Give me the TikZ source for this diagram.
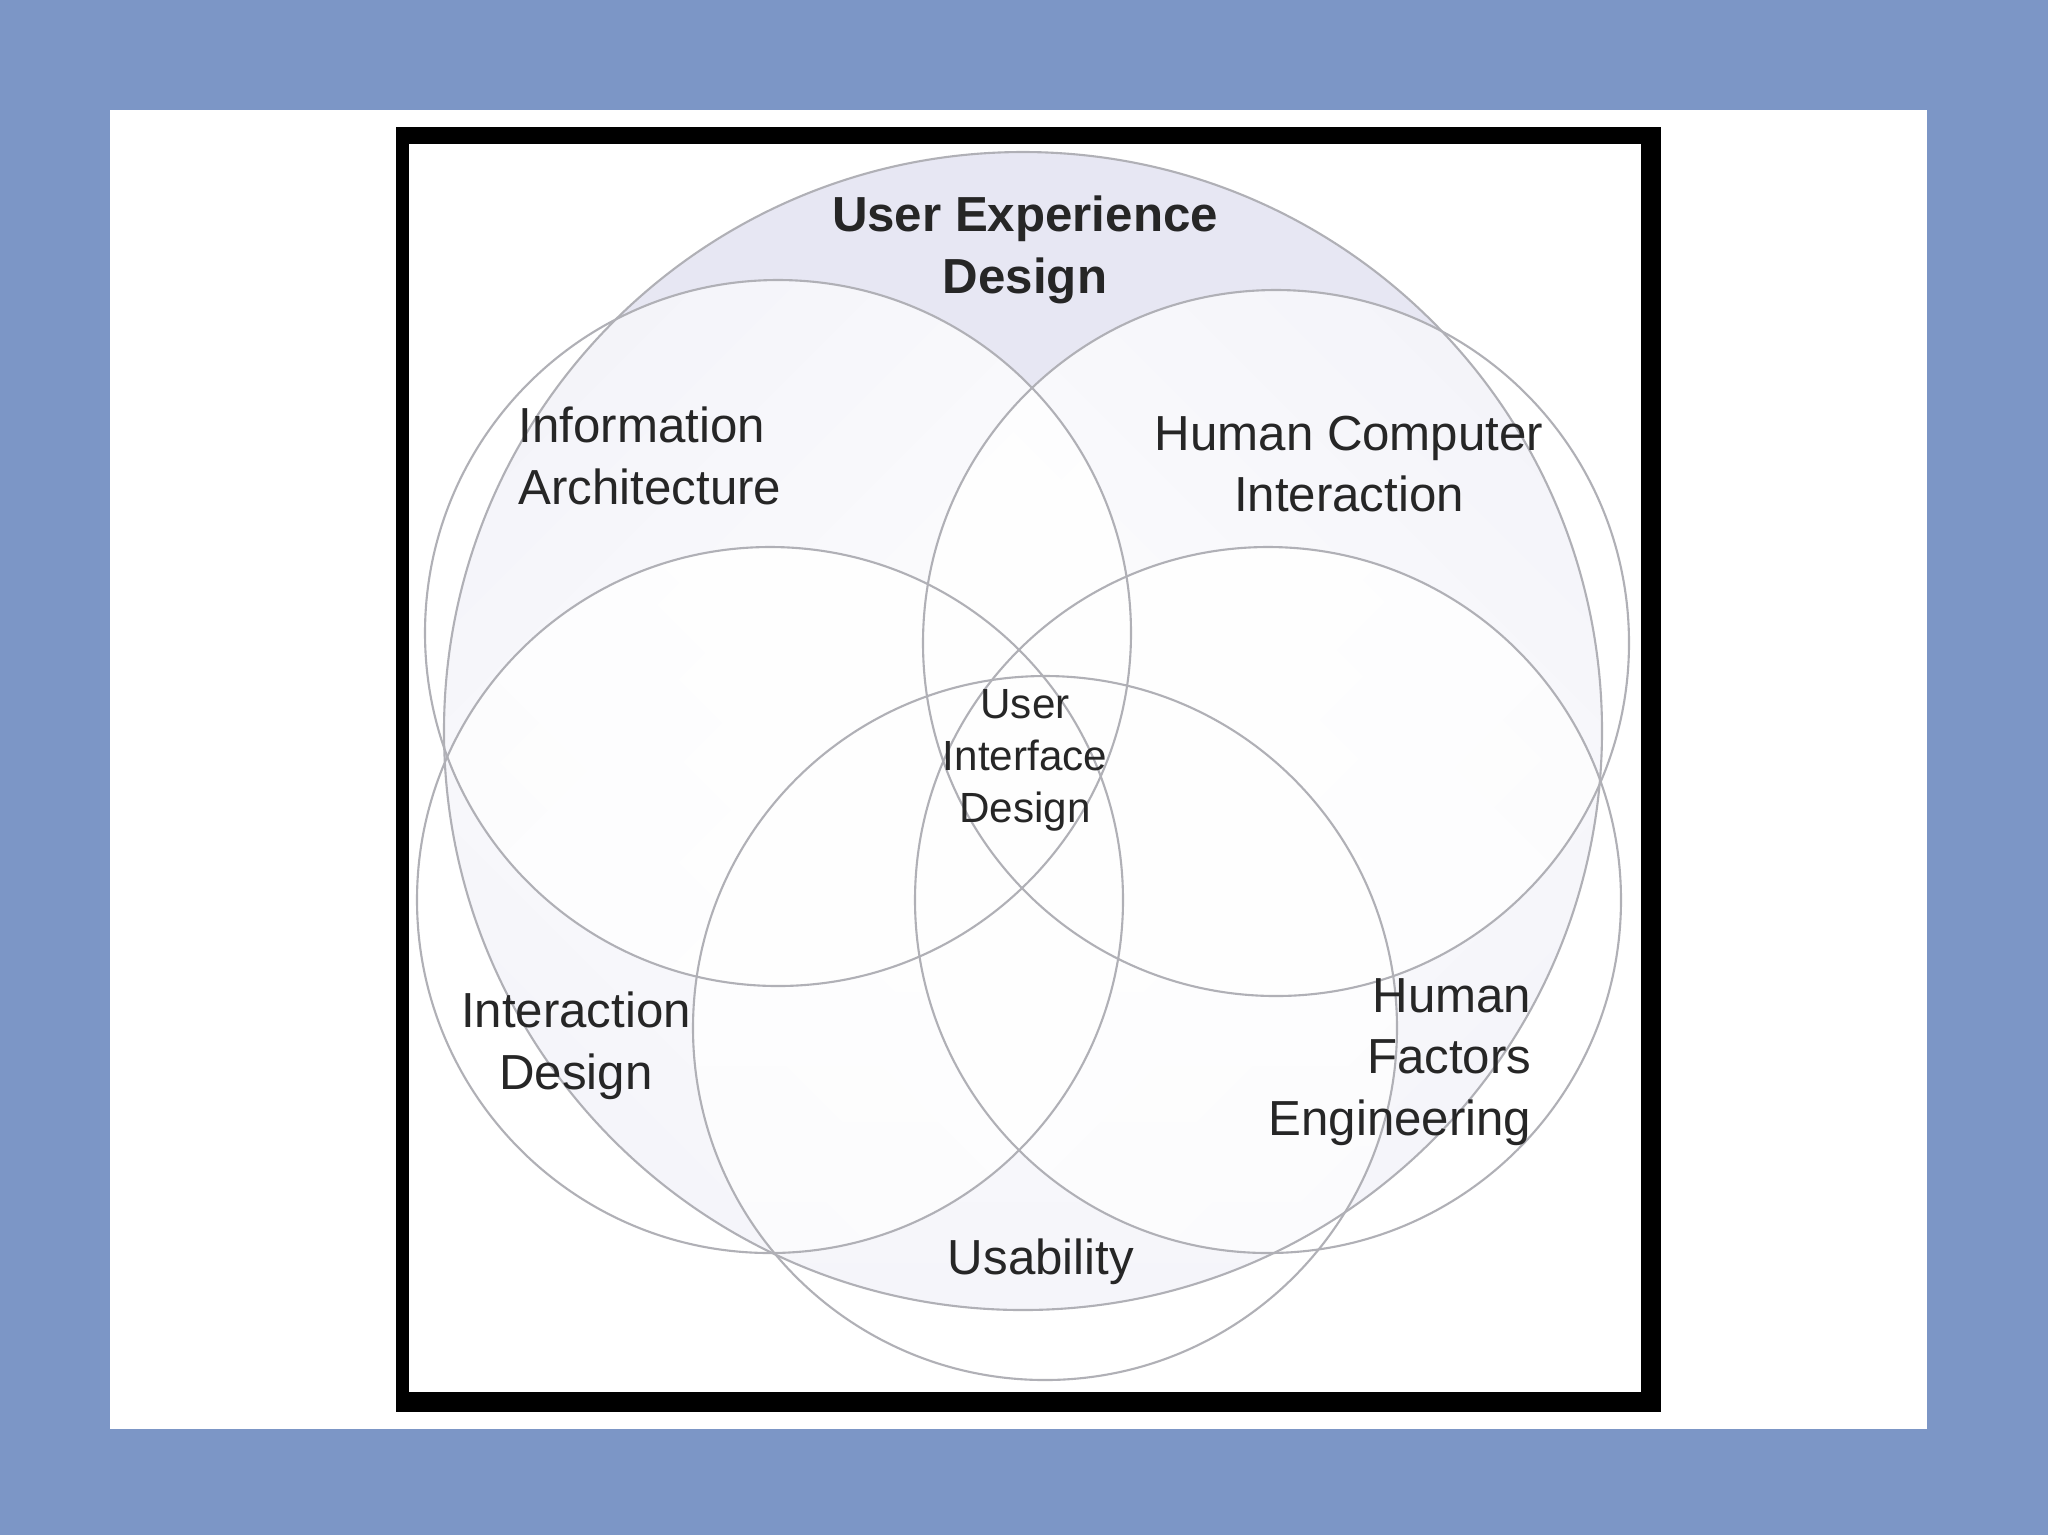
\documentclass[tikz,border=0pt]{standalone}
\usepackage{fontspec}
\setmainfont{Liberation Sans}
\usepackage{tikz}
\usetikzlibrary{fadings}
\definecolor{slide}{RGB}{124,150,198}
\definecolor{uxlav}{RGB}{231,231,243}
\definecolor{ring}{RGB}{176,176,182}
\definecolor{ink}{RGB}{38,38,38}
\tikzset{>=latex}
\tikzfading[name=setfade, top color=transparent!45, bottom color=transparent!0]
\tikzset{
  lbl/.style={inner sep=0pt, text=ink, font=\fontsize{14}{17.5}\selectfont},
  small/.style={inner sep=0pt, text=ink, font=\fontsize{12}{14.8}\selectfont},
  ringline/.style={draw=ring, line width=0.6pt},
  setfill/.style={fill=white, path fading=setfade, fit fading=true, fading angle=#1}
}

\begin{document}
\begin{tikzpicture}[x=0.01cm, y=-0.01cm]
          \useasboundingbox (0,0) rectangle (2048,1535);
          \fill[slide] (0,0) rectangle (2048,1535);
          \fill[white] (110,110) rectangle (1927,1429);
          \fill[black] (396,127) rectangle (1661,1412);
          \fill[white] (409,144) rectangle (1641,1392);

          \fill[uxlav] (1023,731) circle (579);
          \path[setfill=45] (778,633) circle (353);
          \path[setfill=-45] (1276,643) circle (353);
          \path[setfill=135] (770,900) circle (353);
          \path[setfill=-135] (1268,900) circle (353);
          \path[setfill=180] (1045,1028) circle (352);

          \draw[ringline] (1023,731) circle (579);
          \draw[ringline] (778,633) circle (353);
          \draw[ringline] (1276,643) circle (353);
          \draw[ringline] (770,900) circle (353);
          \draw[ringline] (1268,900) circle (353);
          \draw[ringline] (1045,1028) circle (352);

          \node[lbl, font=\fontsize{14}{17.5}\selectfont\bfseries, align=center] (ux) at (1025,250) {User Experience\\Design};
          \node[lbl, align=left, anchor=west] (ia) at (518,456) {Information\\Architecture};
          \node[lbl, align=center] (hci) at (1349,464) {Human Computer\\Interaction};
          \node[small, align=center] (ui) at (1025,760) {User\\Interface\\Design};
          \node[lbl, align=center] (ixd) at (576,1046) {Interaction\\Design};
          \node[lbl, align=right, anchor=east] (hfe) at (1532,1062) {Human\\Factors\\Engineering};
          \node[lbl] (usab) at (1041,1262) {Usability};
        \end{tikzpicture}
\end{document}
